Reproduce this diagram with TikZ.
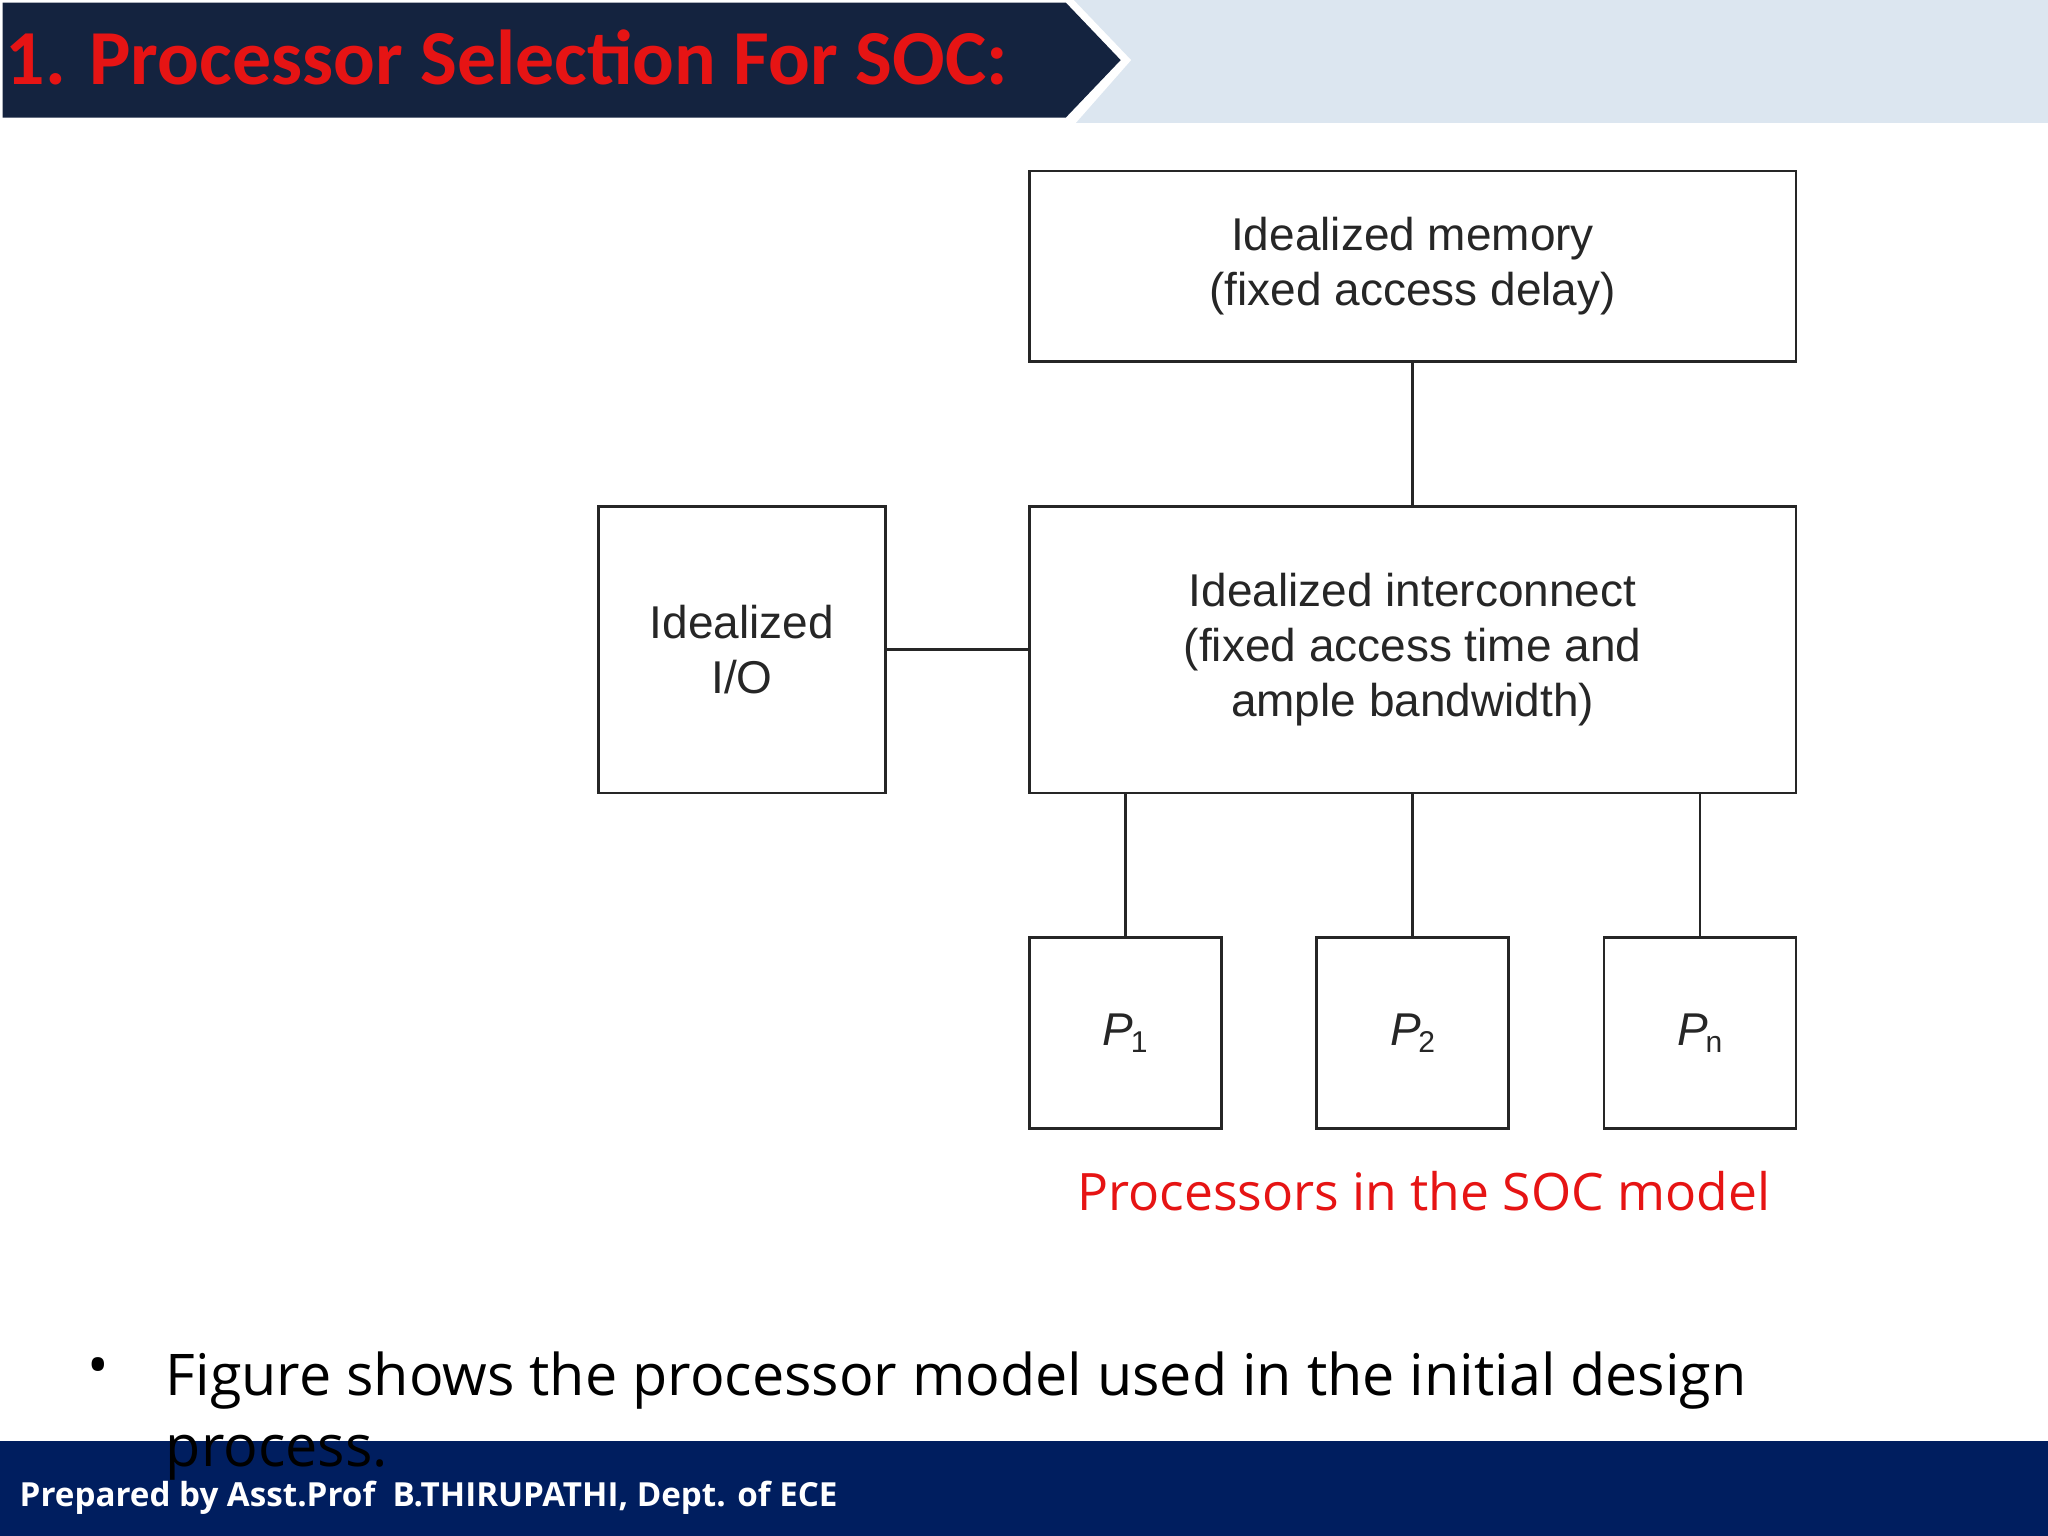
\documentclass[tikz,border=0pt]{standalone}
\usepackage{fontspec}
\setmainfont{Open Sans}
\newfontfamily\carl{Carlito}
\newfontfamily\helv{Liberation Sans}
\definecolor{lband}{RGB}{220,230,240}
\definecolor{navy}{RGB}{20,35,63}
\definecolor{fnavy}{RGB}{0,30,95}
\definecolor{tred}{RGB}{230,20,20}
\begin{document}
\begin{tikzpicture}[x=0.5pt,y=-0.5pt,
  blk/.style={draw=black!85,line width=1pt},
  lbl/.style={font=\helv\fontsize{17.6}{21}\selectfont,align=center,text=black!85},
  ln/.style={draw=black!85,line width=1pt}]
\useasboundingbox (0,0) rectangle (1568,1176);
\fill[white] (0,0) rectangle (1568,1176);
% header
\fill[lband] (818,0) rectangle (1568,94);
\fill[white] (812,0) -- (822,0) -- (866,46) -- (822,96) -- (812,96) -- cycle;
\fill[navy] (2,2) -- (816,2) -- (858,46) -- (816,90) -- (2,90) -- cycle;
\node[anchor=west,text=tred,font=\carl\bfseries\fontsize{29.8}{34}\selectfont,inner sep=0pt] (title) at (4,44) {1. Processor Selection For SOC:};
% diagram
\node[blk,minimum width=293.5pt,minimum height=73pt,lbl] (mem) at (1081.5,204) {Idealized memory\\(fixed access delay)};
\node[blk,minimum width=293.5pt,minimum height=109.5pt,lbl] (ic) at (1081.5,497.5) {Idealized interconnect\\(fixed access time and\\ample bandwidth)};
\node[blk,minimum width=110pt,minimum height=109.5pt,lbl] (io) at (568,497.5) {Idealized\\I/O};
\node[blk,minimum width=73.5pt,minimum height=73pt,lbl] (p1) at (861.5,791) {\textit{P}\kern-1pt{\fontsize{11.5}{12}\selectfont\raisebox{-3pt}{1}}};
\node[blk,minimum width=73.5pt,minimum height=73pt,lbl] (p2) at (1081.5,791) {\textit{P}\kern-1pt{\fontsize{11.5}{12}\selectfont\raisebox{-3pt}{2}}};
\node[blk,minimum width=73.5pt,minimum height=73pt,lbl] (pn) at (1301.5,791) {\textit{P}\kern-1pt{\fontsize{11.5}{12}\selectfont\raisebox{-3pt}{n}}};
\draw[ln] (mem.south) -- (ic.north);
\draw[ln] (io.east) -- (ic.west);
\draw[ln] (p1.north) -- (p1.north |- ic.south);
\draw[ln] (p2.north) -- (ic.south);
\draw[ln] (pn.north) -- (pn.north |- ic.south);
\node[text=tred,font=\fontsize{19.75}{23}\selectfont] (cap) at (1090,912) {Processors in the SOC model};
% footer
\fill[fnavy] (0,1103) rectangle (1568,1176);
\node[anchor=west,text=white,font=\bfseries\fontsize{12.7}{15}\selectfont] (foot) at (8,1147) {Prepared by Asst.Prof\ \ B.THIRUPATHI, Dept. of ECE};
\node[font=\fontsize{22}{24}\selectfont] (bul) at (75,1050) {•};
\node[anchor=north west,align=left,font=\fontsize{22}{27}\selectfont,text=black] (body) at (120,1028) {Figure shows the processor model used in the initial design\\process.};
\end{tikzpicture}
\end{document}
